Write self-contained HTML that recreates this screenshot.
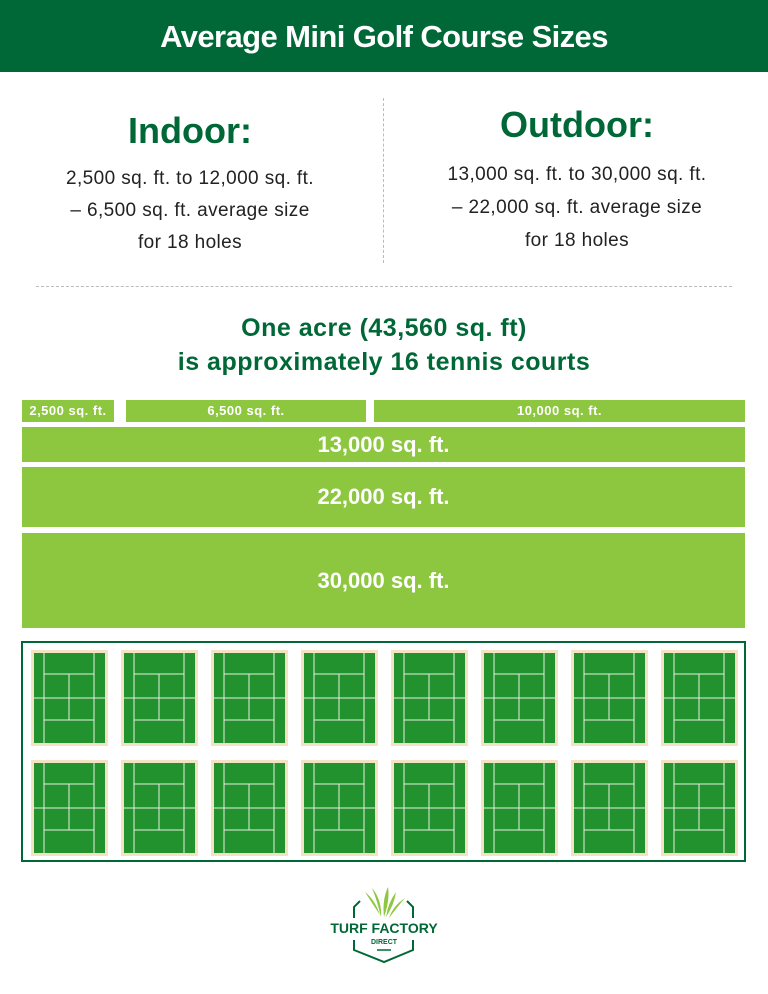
<!DOCTYPE html>
<html><head><meta charset="utf-8"><style>
body{margin:0;width:768px;height:994px;background:#fff;position:relative;overflow:hidden;font-family:"Liberation Sans",sans-serif}
.a{position:absolute}
.hdr{left:0;top:0;width:768px;height:72px;background:#006837;color:#fff;font-weight:bold;font-size:31px;text-align:center;line-height:74px;letter-spacing:-0.6px}
.h2{color:#006837;font-weight:bold;font-size:36px;text-align:center;letter-spacing:0px}
.p{color:#222;font-size:19px;text-align:center;line-height:32px;letter-spacing:0.4px}
.bar{background:#8dc63f;color:#fff;font-weight:bold;text-align:center}
</style></head><body>
<div class="a hdr">Average Mini Golf Course Sizes</div>
<div class="a" style="left:383px;top:98px;height:165px;border-left:1px dashed #bbb"></div>
<div class="a" style="left:36px;top:286px;width:696px;border-top:1px dashed #bbb"></div>
<div class="a h2" style="left:40px;top:110px;width:300px">Indoor:</div>
<div class="a h2" style="left:427px;top:104px;width:300px">Outdoor:</div>
<div class="a p" style="left:20px;top:163px;width:340px">2,500 sq. ft. to 12,000 sq. ft.<br>– 6,500 sq. ft. average size<br>for 18 holes</div>
<div class="a p" style="left:407px;top:158px;width:340px;line-height:33px">13,000 sq. ft. to 30,000 sq. ft.<br>– 22,000 sq. ft. average size<br>for 18 holes</div>
<div class="a" style="left:0;top:311px;width:768px;text-align:center;color:#006837;font-weight:bold;font-size:25px;line-height:34px;letter-spacing:0.5px">One acre (43,560 sq. ft)<br>is approximately 16 tennis courts</div>
<div class="a bar" style="left:22px;top:400px;width:92px;height:22px;font-size:13px;line-height:22px;letter-spacing:0.5px">2,500 sq. ft.</div>
<div class="a bar" style="left:126px;top:400px;width:240px;height:22px;font-size:13px;line-height:22px;letter-spacing:0.5px">6,500 sq. ft.</div>
<div class="a bar" style="left:374px;top:400px;width:371px;height:22px;font-size:13px;line-height:22px;letter-spacing:0.5px">10,000 sq. ft.</div>
<div class="a bar" style="left:22px;top:427px;width:723px;height:35px;font-size:22px;line-height:35px">13,000 sq. ft.</div>
<div class="a bar" style="left:22px;top:467px;width:723px;height:60px;font-size:22px;line-height:60px">22,000 sq. ft.</div>
<div class="a bar" style="left:22px;top:533px;width:723px;height:95px;font-size:22px;line-height:95px">30,000 sq. ft.</div>
<svg class="a" style="left:0;top:0" width="768" height="994">
<defs><g id="c">
<rect x="0" y="0" width="77" height="96" fill="#f3e3c3"/>
<rect x="3" y="3" width="71" height="90" fill="#21922e"/>
<g stroke="#e8f0e0" stroke-width="1">
<line x1="13" y1="3" x2="13" y2="93"/><line x1="63" y1="3" x2="63" y2="93"/>
<line x1="13" y1="24" x2="63" y2="24"/><line x1="13" y1="70" x2="63" y2="70"/>
<line x1="3" y1="48" x2="74" y2="48"/><line x1="38" y1="24" x2="38" y2="70"/>
</g></g></defs>
<rect x="22" y="642" width="723" height="219" fill="none" stroke="#006837" stroke-width="2"/>
<use href="#c" x="31" y="650"/><use href="#c" x="121" y="650"/><use href="#c" x="211" y="650"/><use href="#c" x="301" y="650"/>
<use href="#c" x="391" y="650"/><use href="#c" x="481" y="650"/><use href="#c" x="571" y="650"/><use href="#c" x="661" y="650"/>
<use href="#c" x="31" y="760"/><use href="#c" x="121" y="760"/><use href="#c" x="211" y="760"/><use href="#c" x="301" y="760"/>
<use href="#c" x="391" y="760"/><use href="#c" x="481" y="760"/><use href="#c" x="571" y="760"/><use href="#c" x="661" y="760"/>
<g fill="#8dc63f">
<path d="M365 892 Q375 900 380 915 Q372 903 365 892Z"/>
<path d="M372 888 Q382 900 381 917 Q377 900 372 888Z"/>
<path d="M388 887 Q382 900 384 917 Q390 900 388 887Z"/>
<path d="M396 892 Q388 903 386 917 Q394 905 396 892Z"/>
<path d="M405 898 Q393 906 389 918 Q398 906 405 898Z"/>
</g>
<g fill="none" stroke="#006837" stroke-width="2">
<path d="M354 918 V907 L360 901"/><path d="M413 918 V907 L407 901"/>
<path d="M354 940 V950 L384 962 L413 950 V940"/>
</g>
<line x1="377" y1="950" x2="391" y2="950" stroke="#006837" stroke-width="1.5"/>
</svg>
<div class="a" style="left:300px;top:920px;width:168px;text-align:center;color:#006837;font-weight:bold;font-size:14px">TURF FACTORY</div>
<div class="a" style="left:300px;top:939px;width:168px;text-align:center;color:#006837;font-weight:bold;font-size:7px">DIRECT</div>
</body></html>
